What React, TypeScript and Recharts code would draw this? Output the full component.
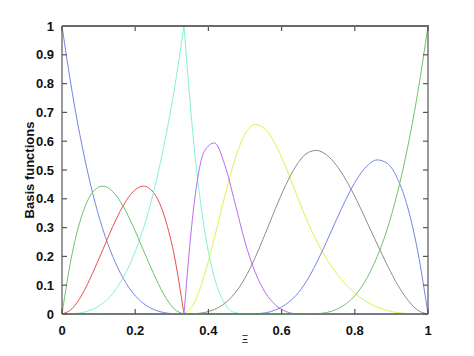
import { LineChart, Line, XAxis, YAxis, ReferenceLine } from "recharts";

/* abscissa, step 1/36 */
const XI = [
  0, 0.0278, 0.0556, 0.0833, 0.1111, 0.1389, 0.1667, 0.1944, 0.2222, 0.25, 0.2778, 0.3056,
  0.3333, 0.3611, 0.3889, 0.4167, 0.4444, 0.4722, 0.5, 0.5278, 0.5556, 0.5833, 0.6111, 0.6389,
  0.6667, 0.6944, 0.7222, 0.75, 0.7778, 0.8056, 0.8333, 0.8611, 0.8889, 0.9167, 0.9444, 0.9722, 1,
];
// index of the C0 knot (xi = 1/3), curves are split there so the kinks stay sharp
const KNOT = 12;

// basis functions
const N0 = [
  1, 0.77, 0.579, 0.422, 0.296, 0.199, 0.125, 0.072, 0.037, 0.016, 0.005, 0.001,
  0, 0, 0, 0, 0, 0, 0, 0, 0, 0, 0, 0,
  0, 0, 0, 0, 0, 0, 0, 0, 0, 0, 0, 0, 0,
];
const N1 = [
  0, 0.21, 0.347, 0.422, 0.444, 0.425, 0.375, 0.304, 0.222, 0.141, 0.069, 0.019,
  0, 0, 0, 0, 0, 0, 0, 0, 0, 0, 0, 0,
  0, 0, 0, 0, 0, 0, 0, 0, 0, 0, 0, 0, 0,
];
const N2 = [
  0, 0.019, 0.069, 0.141, 0.222, 0.304, 0.375, 0.425, 0.444, 0.422, 0.347, 0.21,
  0, 0, 0, 0, 0, 0, 0, 0, 0, 0, 0, 0,
  0, 0, 0, 0, 0, 0, 0, 0, 0, 0, 0, 0, 0,
];
const N3 = [
  0, 0.001, 0.005, 0.016, 0.037, 0.072, 0.125, 0.199, 0.296, 0.422, 0.579, 0.77,
  1, 0.579, 0.296, 0.125, 0.037, 0.005, 0, 0, 0, 0, 0, 0,
  0, 0, 0, 0, 0, 0, 0, 0, 0, 0, 0, 0, 0,
];
const N4 = [
  0, 0, 0, 0, 0, 0, 0, 0, 0, 0, 0, 0,
  0, 0.383, 0.565, 0.594, 0.519, 0.388, 0.25, 0.145, 0.074, 0.031, 0.009, 0.001,
  0, 0, 0, 0, 0, 0, 0, 0, 0, 0, 0, 0, 0,
];
const N5 = [
  0, 0, 0, 0, 0, 0, 0, 0, 0, 0, 0, 0,
  0, 0.038, 0.134, 0.266, 0.407, 0.535, 0.625, 0.658, 0.642, 0.589, 0.511, 0.421,
  0.333, 0.257, 0.193, 0.141, 0.099, 0.066, 0.042, 0.024, 0.012, 0.005, 0.002, 0.0002, 0,
];
const N6 = [
  0, 0, 0, 0, 0, 0, 0, 0, 0, 0, 0, 0,
  0, 0.001, 0.005, 0.016, 0.037, 0.072, 0.125, 0.196, 0.28, 0.366, 0.447, 0.513,
  0.556, 0.568, 0.553, 0.516, 0.461, 0.394, 0.319, 0.243, 0.169, 0.102, 0.049, 0.013, 0,
];
const N7 = [
  0, 0, 0, 0, 0, 0, 0, 0, 0, 0, 0, 0,
  0, 0, 0, 0, 0, 0, 0, 0.001, 0.004, 0.014, 0.033, 0.064,
  0.111, 0.175, 0.249, 0.328, 0.403, 0.468, 0.514, 0.535, 0.523, 0.47, 0.371, 0.216, 0,
];
const N8 = [
  0, 0, 0, 0, 0, 0, 0, 0, 0, 0, 0, 0,
  0, 0, 0, 0, 0, 0, 0, 0, 0, 0, 0, 0,
  0, 0.001, 0.005, 0.016, 0.037, 0.072, 0.125, 0.199, 0.296, 0.422, 0.579, 0.77, 1,
];

const X_TICKS = [0, 0.2, 0.4, 0.6, 0.8, 1];
const Y_TICKS = [0, 0.1, 0.2, 0.3, 0.4, 0.5, 0.6, 0.7, 0.8, 0.9, 1];

// draw order: last one ends up on top along the zero line
const SERIES = [
  { key: "N0", values: N0, color: "#7585e6" },
  { key: "N2", values: N2, color: "#e65050" },
  { key: "N3", values: N3, color: "#86f0d6" },
  { key: "N5", values: N5, color: "#e2f050" },
  { key: "N6", values: N6, color: "#8c8c8c" },
  { key: "N7", values: N7, color: "#7585e6" },
  { key: "N1", values: N1, color: "#6cc468" },
  { key: "N4", values: N4, color: "#b96af0" },
  { key: "N8", values: N8, color: "#6cc468" },
];

const data = XI.map((xi, i) => {
  const row: Record<string, number | null> = { xi };
  SERIES.forEach((s) => {
    row[s.key + "a"] = i <= KNOT ? s.values[i] : null;
    row[s.key + "b"] = i >= KNOT ? s.values[i] : null;
  });
  return row;
});

const W = 474;
const H = 356;
const MARGIN = { top: 26, right: 46, bottom: 12, left: 22 };
const X_AXIS_H = 30;
const Y_AXIS_W = 40;
const PLOT_W = W - MARGIN.left - MARGIN.right - Y_AXIS_W; // 366
const PLOT_H = H - MARGIN.top - MARGIN.bottom - X_AXIS_H; // 288

const AXIS = "#555";
const FONT = "'Liberation Sans', Arial, sans-serif";
const M = 12; // bottom tick label gap
const ML = 8; // left tick label gap
const TL = 5; // inward tick length

// bottom tick: label + inward tick, plus the matching tick on the top edge
const BottomTick = ({ x, y, payload }: any) => {
  const y0 = y - M;
  return (
    <g>
      <line x1={x} x2={x} y1={y0} y2={y0 - TL} stroke={AXIS} strokeWidth={1.2} />
      <line x1={x} x2={x} y1={y0 - PLOT_H} y2={y0 - PLOT_H + TL} stroke={AXIS} strokeWidth={1.2} />
      <text x={x} y={y} dy="0.71em" textAnchor="middle" fill="#111" fontSize={13} fontWeight={700} fontFamily={FONT}>
        {String(payload.value)}
      </text>
    </g>
  );
};
// left tick: label + inward tick, plus the matching tick on the right edge
const LeftTick = ({ x, y, payload }: any) => {
  const x0 = x + ML;
  return (
    <g>
      <line x1={x0} x2={x0 + TL} y1={y} y2={y} stroke={AXIS} strokeWidth={1.2} />
      <line x1={x0 + PLOT_W} x2={x0 + PLOT_W - TL} y1={y} y2={y} stroke={AXIS} strokeWidth={1.2} />
      <text x={x} y={y} dy="0.355em" textAnchor="end" fill="#111" fontSize={13} fontWeight={700} fontFamily={FONT}>
        {String(payload.value)}
      </text>
    </g>
  );
};

export default function App() {
  return (
    <div style={{ position: "absolute", left: 0, top: 0, width: W, height: H, background: "#fff" }}>
      <LineChart width={W} height={H} data={data} margin={MARGIN}>
        <XAxis
          dataKey="xi"
          type="number"
          domain={[0, 1]}
          ticks={X_TICKS}
          interval={0}
          height={X_AXIS_H}
          tickSize={0}
          tickMargin={M}
          tickLine={false}
          axisLine={{ stroke: AXIS, strokeWidth: 1.2 }}
          tick={<BottomTick />}
        />
        <YAxis
          type="number"
          domain={[0, 1]}
          ticks={Y_TICKS}
          interval={0}
          width={Y_AXIS_W}
          tickSize={0}
          tickMargin={ML}
          tickLine={false}
          axisLine={{ stroke: AXIS, strokeWidth: 1.2 }}
          tick={<LeftTick />}
        />
        {SERIES.flatMap((s) =>
          ["a", "b"].map((part) => (
            <Line
              key={s.key + part}
              type="monotone"
              dataKey={s.key + part}
              stroke={s.color}
              strokeWidth={1}
              dot={false}
              activeDot={false}
              connectNulls={false}
              isAnimationActive={false}
            />
          ))
        )}
        {/* box edges */}
        <ReferenceLine y={1} stroke={AXIS} strokeWidth={1.5} />
        <ReferenceLine x={1} stroke={AXIS} strokeWidth={1.2} />
      </LineChart>
      {/* top edge of the box, drawn again so it always shows */}
      <div
        style={{
          position: "absolute",
          left: MARGIN.left + Y_AXIS_W,
          top: MARGIN.top - 1,
          width: PLOT_W + 1,
          height: 2,
          background: "#6a6a6a",
          pointerEvents: "none",
        }}
      />
      <div
        style={{
          position: "absolute",
          left: 29,
          top: 170,
          transform: "translate(-50%, -50%) rotate(-90deg)",
          whiteSpace: "nowrap",
          font: `700 13px ${FONT}`,
          color: "#111",
        }}
      >
        Basis functions
      </div>
      <div
        style={{
          position: "absolute",
          left: 245,
          top: 339,
          transform: "translate(-50%, -50%)",
          font: `10px ${FONT}`,
          color: "#111",
        }}
      >
        Ξ
      </div>
    </div>
  );
}
